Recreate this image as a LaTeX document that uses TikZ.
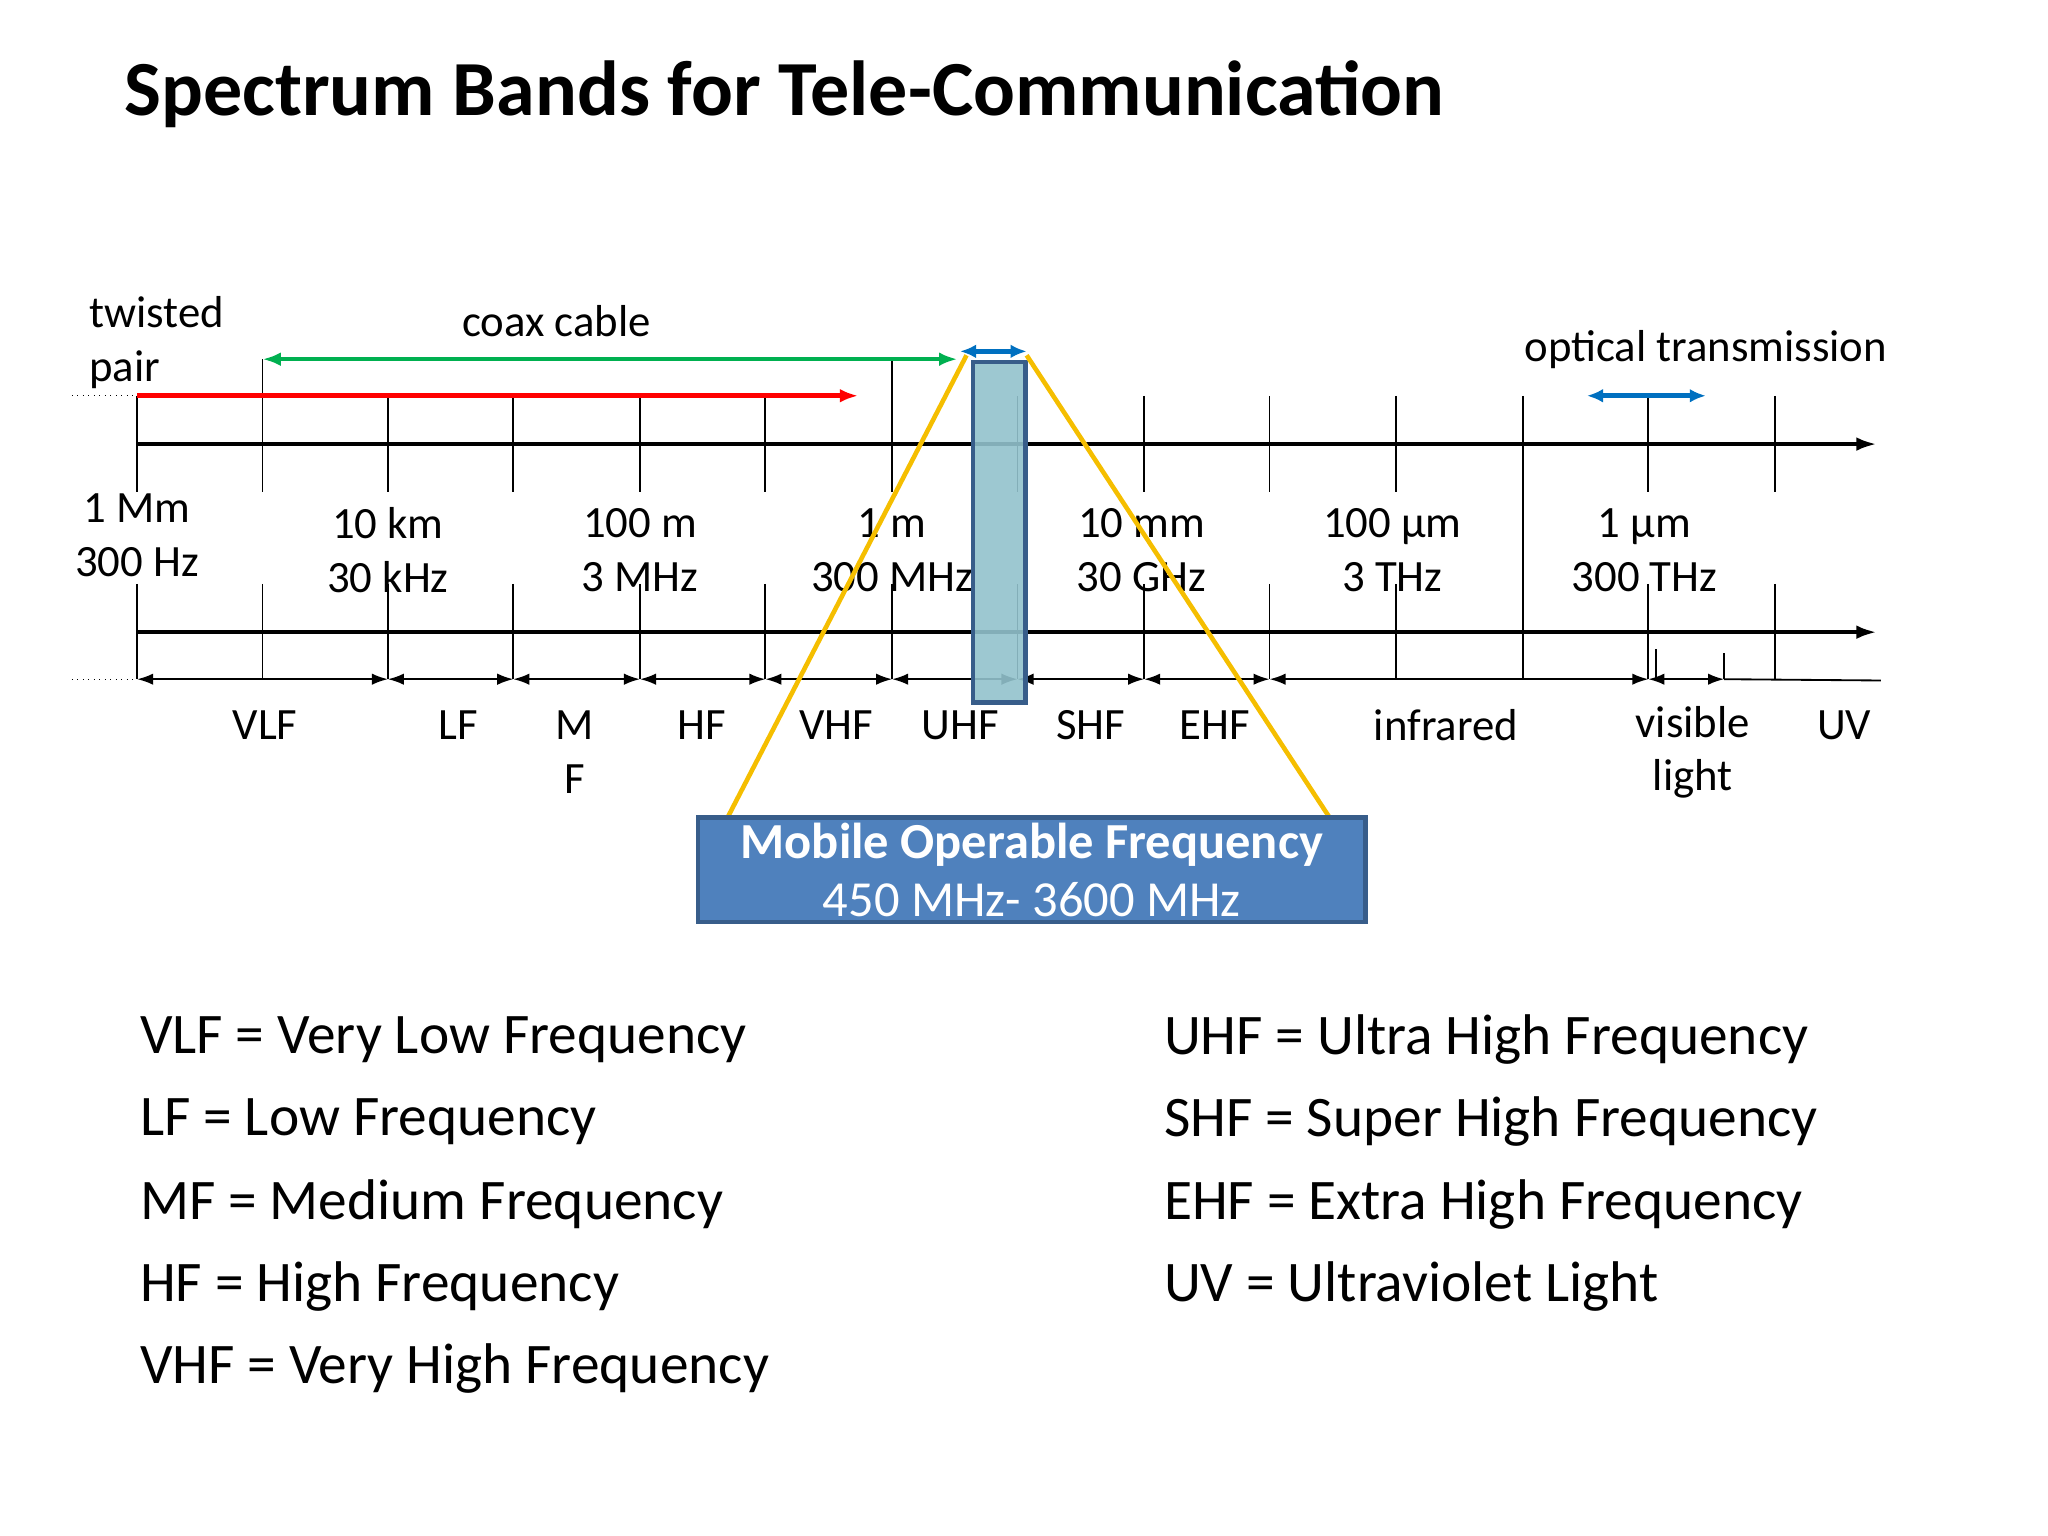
\documentclass[tikz,border=0pt]{standalone}
\usepackage{fontspec}
\setmainfont{Carlito}
\usetikzlibrary{arrows.meta}
\definecolor{boxblue}{RGB}{79,129,189}
\definecolor{boxedge}{RGB}{56,93,138}
\definecolor{tealf}{RGB}{146,194,204}
\definecolor{gold}{RGB}{245,190,0}
\definecolor{arrblue}{RGB}{0,112,192}
\definecolor{grn}{RGB}{0,176,80}
\begin{document}
\begin{tikzpicture}[x=0.02cm,y=-0.02cm,
  lbl/.style={font=\fontsize{19.5}{23.5}\selectfont,align=center},
  leg/.style={font=\fontsize{25}{30}\selectfont,anchor=west},
  tk/.style={line width=0.8pt},
  ax/.style={line width=2pt,-{Latex[length=9pt,width=6pt]}},
  band/.style={line width=0.8pt,{Latex[length=7pt,width=5pt]}-{Latex[length=7pt,width=5pt]}}]
\useasboundingbox (0,0) rectangle (1568,1176);
\node[anchor=west,font=\fontsize{34}{40}\selectfont\bfseries,inner sep=0pt] (title) at (95,72) {Spectrum Bands for Tele-Communication};
% ticks
\foreach \x in {105,297,393,490,586,779,876,972,1069,1262,1359}{\draw[tk] (\x,303)--(\x,377); \draw[tk] (\x,447)--(\x,520);}
\draw[tk] (201,275)--(201,377); \draw[tk] (201,447)--(201,520);
\draw[tk] (683,275)--(683,377); \draw[tk] (683,447)--(683,520);
\draw[tk] (1166,303)--(1166,520);
% axes
\coordinate (a1) at (105,340); \coordinate (a2) at (1437,340);
\coordinate (b1) at (105,484); \coordinate (b2) at (1437,484);
\draw[ax] (a1)--(a2); \draw[ax] (b1)--(b2);
\draw[dotted] (55,303)--(105,303); \draw[dotted] (55,520)--(105,520);
% bands
\foreach \s/\e in {105/297,297/393,393/490,490/586,586/683,683/779,779/876,876/972,972/1262,1262/1320}{\draw[band] (\s,520)--(\e,520);}
\draw[tk] (1320,520)--(1440,521);
\draw[tk] (1320,500)--(1320,520); \draw[tk] (1268,497)--(1268,520);
% labels
\node[lbl] (l1) at (105,410) {1 Mm\\300 Hz};
\node[lbl] (l2) at (297,421) {10 km\\30 kHz};
\node[lbl] (l3) at (490,421) {100 m\\3 MHz};
\node[lbl] (l4) at (683,421) {1 m\\300 MHz};
\node[lbl] (l5) at (874,421) {10 mm\\30 GHz};
\node[lbl] (l6) at (1066,421) {100 µm\\3 THz};
\node[lbl] (l7) at (1259,421) {1 µm\\300 THz};
\foreach \x/\t in {203/VLF,351/LF,537/HF,640/VHF,735/UHF,835/SHF,930/EHF,1107/infrared,1412/UV}{\node[lbl] at (\x,555) {\t};}
\node[lbl] (mf) at (440,576) {M\\F};
\node[lbl] (vis) at (1296,576) {visible\\light};
\node[lbl,align=left,anchor=west,inner sep=0pt] (tp) at (68,262) {twisted\\pair};
\node[lbl] (cx) at (426,246) {coax cable};
\node[lbl] (op) at (1306,268) {optical transmission};
% cables
\draw[red,line width=2pt,-{Latex[length=8pt,width=6pt]}] (105,303)--(657,303);
\draw[grn,line width=2pt,{Latex[length=8pt,width=6pt]}-{Latex[length=8pt,width=6pt]}] (201,275)--(733,275);
\draw[arrblue,line width=2pt,{Latex[length=7pt,width=6pt]}-{Latex[length=7pt,width=6pt]}] (735,269)--(786,269);
\draw[arrblue,line width=2pt,{Latex[length=7pt,width=6pt]}-{Latex[length=7pt,width=6pt]}] (1215,303)--(1306,303);
% highlight
\draw[boxedge,line width=2pt,fill=tealf,fill opacity=0.9] (745,277) rectangle (785,538);
\draw[gold,line width=2pt] (740,272)--(557,626);
\draw[gold,line width=2pt] (786,272)--(1018,626);
\node[draw=boxedge,line width=2pt,fill=boxblue,text=white,minimum width=511*0.02cm,minimum height=80*0.02cm,align=center,font=\fontsize{22}{25}\selectfont,inner sep=0pt] (mob) at (790,666) {\textbf{Mobile Operable Frequency}\\450 MHz- 3600 MHz};
% legend
\node[leg] at (101,796) {VLF = Very Low Frequency};
\node[leg] at (101,859) {LF = Low Frequency};
\node[leg] at (101,922) {MF = Medium Frequency};
\node[leg] at (101,985) {HF = High Frequency};
\node[leg] at (101,1048) {VHF = Very High Frequency};
\node[leg] at (885,796) {UHF = Ultra High Frequency};
\node[leg] at (885,859) {SHF = Super High Frequency};
\node[leg] at (885,922) {EHF = Extra High Frequency};
\node[leg] at (885,985) {UV = Ultraviolet Light};
\end{tikzpicture}
\end{document}
